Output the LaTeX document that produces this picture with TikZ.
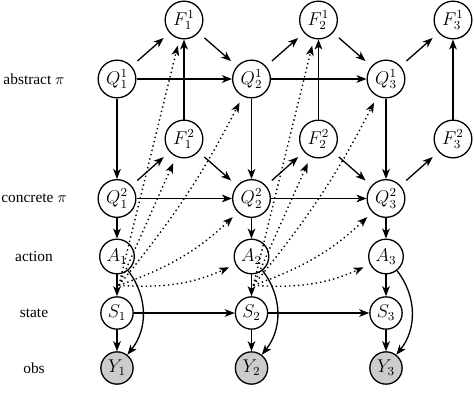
\documentclass[tikz,border=0pt]{standalone}
\usepackage[no-math]{fontspec}
\setmainfont{Liberation Serif}
\usetikzlibrary{arrows.meta}
\begin{document}
\begin{tikzpicture}[x=0.65pt,y=-0.65pt,
  vn/.style={circle,draw,line width=0.85pt,inner sep=0pt,minimum size=21pt,font=\large},
  bigvn/.style={vn,minimum size=24.5pt},
  midvn/.style={vn,minimum size=22.5pt},
  obsvn/.style={vn,fill=black!20},
  lab/.style={inner sep=0pt},
  tipstyle/.style={-{Stealth[length=6.5pt,width=5pt,inset=1.8pt]}},
  arr/.style={tipstyle,line width=0.85pt},
  diag/.style={arr,shorten <=5pt,shorten >=5pt},
  dots/.style={tipstyle,line width=0.9pt,dotted,shorten >=4.5pt}]
\useasboundingbox (0,0) rectangle (474,403);
% row labels
\node[lab] (labA) at (34,79) {abstract $\pi$};
\node[lab] (labC) at (34,198.5) {concrete $\pi$};
\node[lab] (labAct) at (34,256.5) {action};
\node[lab] (labS) at (34,313) {state};
\node[lab] (labO) at (34,368) {obs};
% nodes
\foreach \i/\x/\fx in {1/117/184,2/251.5/318.5,3/386/453}{
  \node[bigvn] (Fa\i) at (\fx,20) {$F_{\i}^{1}$};
  \node[bigvn] (Qa\i) at (\x,79) {$Q_{\i}^{1}$};
  \node[bigvn] (Fb\i) at (\fx,139) {$F_{\i}^{2}$};
  \node[bigvn] (Qb\i) at (\x,198.5) {$Q_{\i}^{2}$};
  \node[midvn] (A\i) at (\x,256.5) {$A_{\i}$};
  \node[vn] (S\i) at (\x,313) {$S_{\i}$};
  \node[obsvn] (Y\i) at (\x,368) {$Y_{\i}$};
}
% edges within a column
\foreach \i in {1,2,3}{
  \draw[diag] (Qa\i) -- (Fa\i);
  \draw[diag] (Qb\i) -- (Fb\i);
  \draw[arr] (Fb\i) -- (Fa\i);
  \draw[arr] (Qa\i) -- (Qb\i);
  \draw[arr] (Qb\i) -- (A\i);
  \draw[arr] (A\i) -- (S\i);
  \draw[arr] (S\i) -- (Y\i);
  \draw[arr] (A\i) to[bend left=38] (Y\i);
}
% edges between columns
\foreach \i/\j in {1/2,2/3}{
  \draw[diag] (Fa\i) -- (Qa\j);
  \draw[diag] (Fb\i) -- (Qb\j);
  \draw[arr] (Qa\i) -- (Qa\j);
  \draw[arr] (Qb\i) -- (Qb\j);
  \draw[arr] (S\i) -- (S\j);
  \path (A\i) -- (S\i) coordinate[pos=0.5,xshift=1.2pt] (m\i);
  \draw[dots] (m\i) -- (Fa\i);
  \draw[dots] (m\i) -- (Fb\i);
  \draw[dots] (m\i) to[bend right=6] (Qa\j);
  \draw[dots] (m\i) to[bend right=12] (Qb\j);
  \draw[dots] (m\i) to[bend right=14] (A\j);
}
\end{tikzpicture}
\end{document}
